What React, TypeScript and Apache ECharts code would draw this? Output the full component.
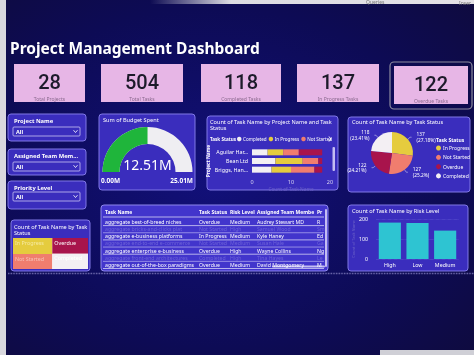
import React, { useEffect, useRef } from 'react';
import * as echarts from 'echarts';

const kpiValues = [28, 504, 118, 137, 122];
const kpiLabels = ['Total Projects', 'Total Tasks', 'Completed Tasks', 'In Progress Tasks', 'Overdue Tasks'];

const projectNames = ['Aguilar Har...', 'Bean Ltd', 'Briggs, Han...'];
const completedByProject = [4, 6, 5];
const inProgressByProject = [4, 7, 5];
const notStartedByProject = [4, 4, 6];
const overdueByProject = [6, 1, 2];

const statusNames = ['In Progress', 'Not Started', 'Overdue', 'Completed'];
const statusCounts = [137, 127, 122, 118];

const riskLevels = ['High', 'Low', 'Medium'];
const riskCounts = [182, 180, 142];

const budgetSpent = 12.51;
const budgetMax = 25.01;

const slicerTitles = ['Project Name', 'Assigned Team Mem...', 'Priority Level'];
const slicerValues = ['All', 'All', 'All'];

const tableHeaders = ['Task Name', 'Task Status', 'Risk Level', 'Assigned Team Member', 'Project Name'];
const tableRows = [
  ['aggregate best-of-breed niches', 'Overdue', 'Medium', 'Audrey Stewart MD', 'Ramirez Group'],
  ['aggregate bricks-and-clicks platforms', 'Not Started', 'High', 'Samuel Wood', 'Smith LLC'],
  ['aggregate e-business platforms', 'In Progress', 'Medium', 'Kyle Haney', 'Edwards Inc'],
  ['aggregate end-to-end e-commerce', 'Not Started', 'Medium', 'Susan Hale', 'Garcia PLC'],
  ['aggregate enterprise e-business', 'Overdue', 'High', 'Wayne Collins', 'Nguyen Ltd'],
  ['aggregate front-end architectures', 'Completed', 'High', 'Tina Hayes', 'Lee Inc'],
  ['aggregate out-of-the-box paradigms', 'Overdue', 'Medium', 'David Montgomery', 'Moore LLC'],
];

const C_COMPLETED = '#f3eff3';
const C_INPROG = '#e5cc3e';
const C_NOTSTART = '#f07d6e';
const C_OVERDUE = '#a8144c';
const statusColors: Record<string, string> = {
  'In Progress': C_INPROG,
  'Not Started': C_NOTSTART,
  Overdue: C_OVERDUE,
  Completed: C_COMPLETED,
};

const FONT = 'Noto Sans';
const PANEL = '#3a2dbd';
const PANEL_BORDER = '#8078e6';

function txt(x: number, y: number, text: string, size: number, fill: string, extra: any = {}) {
  return {
    type: 'text',
    x,
    y,
    z: 10,
    style: {
      text,
      fill,
      fontSize: size,
      fontFamily: FONT,
      verticalAlign: 'middle',
      align: 'left',
      ...extra,
    },
  };
}

function rect(x: number, y: number, w: number, h: number, style: any, r = 2, z = 1) {
  return { type: 'rect', z, shape: { x, y, width: w, height: h, r }, style };
}

function panel(x: number, y: number, w: number, h: number) {
  return rect(x, y, w, h, { fill: PANEL, stroke: PANEL_BORDER, lineWidth: 1 }, 3);
}

export default function App() {
  const ref = useRef<HTMLDivElement>(null);
  useEffect(() => {
    if (!ref.current) return;
    const chart = echarts.init(ref.current, undefined, { renderer: 'svg' });
    const total = statusCounts.reduce((a, b) => a + b, 0);

    const graphics: any[] = [];
    // background
    graphics.push({
      type: 'rect', z: 0, shape: { x: 0, y: 0, width: 474, height: 355 },
      style: {
        fill: new echarts.graphic.RadialGradient(0.45, 0.5, 0.8, [
          { offset: 0, color: '#12107a' },
          { offset: 0.6, color: '#0d0b55' },
          { offset: 1, color: '#0f0b3a' },
        ]),
      },
    });
    graphics.push(rect(0, 0, 6, 355, { fill: '#d9d8de' }, 0));
    graphics.push({
      type: 'rect', z: 1, shape: { x: 150, y: 0, width: 324, height: 4 },
      style: {
        fill: new echarts.graphic.LinearGradient(0, 0, 1, 0, [
          { offset: 0, color: 'rgba(220,220,225,0)' },
          { offset: 0.25, color: '#dcdce2' },
          { offset: 1, color: '#e4e2e6' },
        ]),
      },
    });
    graphics.push(txt(366, 1.5, 'Queries', 5, '#777'));
    graphics.push(txt(459, 2.5, 'Inser', 5, '#777'));
    graphics.push(rect(380, 350, 94, 5, { fill: '#cfcfd6' }, 0));

    // title
    graphics.push(txt(10, 48, 'Project Management Dashboard', 15.5, '#ffffff', { fontWeight: 'bold' }));

    // KPI cards
    const cardX = [14, 101, 201, 297, 394];
    const cardW = [71, 82, 80, 82, 74];
    graphics.push(rect(390, 62, 82, 47, { fill: 'none', stroke: '#8e8ca0', lineWidth: 1.2 }, 4));
    kpiValues.forEach((v, i) => {
      const y0 = i === 4 ? 66 : 64;
      graphics.push(rect(cardX[i], y0, cardW[i], 38, { fill: '#e7b6e6' }, 0));
      graphics.push(txt(cardX[i] + cardW[i] / 2, y0 + 18, String(v), 20, '#1c1a2a', { align: 'center', fontFamily: 'Roboto', fontWeight: 500 }));
      graphics.push(txt(cardX[i] + cardW[i] / 2, y0 + 35, kpiLabels[i], 5, '#8a6a8e', { align: 'center' }));
    });

    // slicers
    const slicerY = [114, 149, 181];
    const slicerH = [27, 26, 28];
    slicerTitles.forEach((t, i) => {
      const y = slicerY[i];
      graphics.push(panel(8, y, 78, slicerH[i]));
      graphics.push(txt(14, y + 6.5, t, 5.8, '#ffffff', { fontWeight: 'bold' }));
      const dy = y + (i === 2 ? 11 : 13);
      graphics.push(rect(13, dy, 67, 9, { fill: PANEL, stroke: '#c9c3f4', lineWidth: 0.8 }, 1, 2));
      graphics.push(txt(16, dy + 4.5, slicerValues[i], 5.5, '#ffffff', { fontWeight: 'bold' }));
      graphics.push({
        type: 'polyline', z: 10,
        shape: { points: [[73.5, dy + 3.2], [75.5, dy + 5.5], [77.5, dy + 3.2]] },
        style: { stroke: '#ffffff', lineWidth: 0.8, fill: 'none' },
      });
    });

    // treemap panel
    graphics.push(panel(11, 220, 79, 51));
    graphics.push(txt(14, 226.5, 'Count of Task Name by Task', 5.6, '#ffffff'));
    graphics.push(txt(14, 233, 'Status', 5.6, '#ffffff'));

    // gauge panel
    graphics.push(panel(99, 114, 96, 76));
    graphics.push(txt(103, 120, 'Sum of Budget Spent', 5.6, '#ffffff'));
    graphics.push(txt(101, 180, (0).toFixed(2) + 'M', 6.5, '#ffffff', { fontWeight: 'bold' }));
    graphics.push(txt(193, 180, budgetMax.toFixed(2) + 'M', 6.5, '#ffffff', { fontWeight: 'bold', align: 'right' }));

    // bar chart panel
    graphics.push(panel(207, 116, 131, 74));
    graphics.push(txt(210, 121.5, 'Count of Task Name by Project Name and Task', 5.6, '#ffffff'));
    graphics.push(txt(210, 128, 'Status', 5.6, '#ffffff'));
    graphics.push(txt(210, 139, 'Task Status', 4.6, '#ffffff', { fontWeight: 'bold' }));
    graphics.push({
      type: 'polyline', z: 10,
      shape: { points: [[329, 136.5], [331, 139], [329, 141.5]] },
      style: { stroke: '#ffffff', lineWidth: 1, fill: 'none' },
    });
    graphics.push(rect(332.5, 147, 2.5, 24, { fill: '#c4bdf2' }, 1, 2));

    // pie panel
    graphics.push(panel(348, 117, 122, 75));
    graphics.push(txt(352, 122, 'Count of Task Name by Task Status', 5.6, '#ffffff'));
    graphics.push(txt(436, 140, 'Task Status', 5, '#ffffff', { fontWeight: 'bold' }));

    // table panel
    graphics.push(rect(101, 205, 227, 66, { fill: '#4235cc', stroke: '#8f88ee', lineWidth: 1 }, 3));
    const colX = [105, 199, 230, 257, 317];
    const colW = [92, 30, 26, 60, 8];
    tableHeaders.forEach((h, j) => {
      graphics.push(txt(colX[j], 212, h, 5, '#ffffff', { fontWeight: 'bold', width: colW[j], overflow: 'truncate', ellipsis: '' }));
    });
    graphics.push({ type: 'line', z: 5, shape: { x1: 103, y1: 217, x2: 324, y2: 217 }, style: { stroke: '#d8d4f8', lineWidth: 0.8 } });
    tableRows.forEach((row, i) => {
      const y = 222 + i * 7.15;
      const dim = i % 2 === 1;
      row.forEach((cell, j) => {
        graphics.push(txt(colX[j], y, cell, 5.2, dim ? '#6d62d8' : '#ffffff', { width: colW[j], overflow: 'truncate', ellipsis: '' }));
      });
      graphics.push({ type: 'line', z: 5, shape: { x1: 103, y1: y + 3.6, x2: 324, y2: y + 3.6 }, style: { stroke: dim ? '#b8b2f0' : '#e8e6fb', lineWidth: 0.7 } });
    });
    graphics.push(rect(325, 209, 2, 58, { fill: '#c4bdf2' }, 1, 6));
    graphics.push(rect(272, 265.5, 53, 2, { fill: '#c4bdf2' }, 1, 6));

    // column chart panel
    graphics.push(panel(348, 205, 120, 66));
    graphics.push(txt(352, 211, 'Count of Task Name by Risk Level', 5.6, '#ffffff'));

    // dotted divider
    graphics.push({
      type: 'line', z: 1,
      shape: { x1: 8, y1: 273.5, x2: 474, y2: 273.5 },
      style: { stroke: '#7c78b8', lineWidth: 1.5, lineDash: [0.8, 0.8] },
    });

    const barSeries = [
      { name: 'Completed', data: completedByProject, color: C_COMPLETED },
      { name: 'In Progress', data: inProgressByProject, color: C_INPROG },
      { name: 'Not Started', data: notStartedByProject, color: C_NOTSTART },
      { name: 'Overdue', data: overdueByProject, color: C_OVERDUE },
    ].map((s) => ({
      type: 'bar',
      name: s.name,
      stack: 'status',
      xAxisIndex: 0,
      yAxisIndex: 0,
      barWidth: 6,
      z: 5,
      data: s.data,
      itemStyle: { color: s.color },
    }));

    const option: any = {
      animation: false,
      textStyle: { fontFamily: FONT },
      graphic: { elements: graphics },
      legend: [
        {
          data: ['Completed', 'In Progress', 'Not Started'],
          left: 237,
          top: 136.5,
          icon: 'circle',
          itemWidth: 4.5,
          itemHeight: 4.5,
          itemGap: 2,
          padding: 0,
          z: 12,
          selectedMode: false,
          textStyle: { color: '#ffffff', fontSize: 4.6, padding: [0, 0, 0, -3.5] },
        },
        {
          data: statusNames,
          orient: 'vertical',
          left: 436,
          top: 145.5,
          icon: 'circle',
          itemWidth: 5,
          itemHeight: 5,
          itemGap: 4.3,
          padding: 0,
          z: 12,
          selectedMode: false,
          textStyle: { color: '#ffffff', fontSize: 5, padding: [0, 0, 0, -3] },
        },
      ],
      grid: [
        { left: 252, top: 148, width: 78, height: 26 },
        { left: 376, top: 219, width: 83, height: 40 },
      ],
      xAxis: [
        {
          gridIndex: 0,
          type: 'value',
          z: 12,
          min: 0,
          max: 20,
          interval: 10,
          splitLine: { show: false },
          axisLine: { show: false },
          axisTick: { show: false },
          axisLabel: { color: '#d8d4f2', fontSize: 5.5, margin: 5 },
          name: 'Count of Task Name',
          nameLocation: 'middle',
          nameGap: 12,
          nameTextStyle: { color: '#6a60c8', fontSize: 4.8 },
        },
        {
          gridIndex: 1,
          type: 'category',
          z: 12,
          data: riskLevels,
          axisLine: { show: false },
          axisTick: { show: false },
          axisLabel: { color: '#ffffff', fontSize: 5.3, margin: 3 },
        },
      ],
      yAxis: [
        {
          gridIndex: 0,
          type: 'category',
          z: 12,
          data: projectNames,
          inverse: true,
          axisLine: { show: false },
          axisTick: { show: false },
          axisLabel: { color: '#ffffff', fontSize: 5.3, margin: 4 },
          name: 'Project Name',
          nameLocation: 'middle',
          nameRotate: 90,
          nameGap: 32,
          nameTextStyle: { color: '#ffffff', fontSize: 4.8, fontWeight: 'bold' },
        },
        {
          gridIndex: 1,
          type: 'value',
          z: 3,
          min: 0,
          max: 200,
          interval: 100,
          axisLine: { show: false },
          axisTick: { show: false },
          splitLine: { lineStyle: { color: '#6a62d6', type: 'dotted', width: 0.6 } },
          axisLabel: { color: '#ffffff', fontSize: 5.3, margin: 8 },
          name: 'Count of Task Name',
          nameLocation: 'middle',
          nameGap: 20,
          nameTextStyle: { color: '#6a60c8', fontSize: 4 },
        },
      ],
      series: [
        ...barSeries,
        {
          type: 'bar',
          name: 'Risk',
          xAxisIndex: 1,
          yAxisIndex: 1,
          barWidth: '80%',
          z: 5,
          data: riskCounts,
          itemStyle: { color: '#2ec4d2' },
        },
        {
          type: 'gauge',
          center: [147.5, 172],
          radius: 45,
          startAngle: 180,
          endAngle: 0,
          min: 0,
          max: budgetMax,
          z: 5,
          pointer: { show: false },
          anchor: { show: false },
          axisTick: { show: false },
          splitLine: { show: false },
          axisLabel: { show: false },
          title: { show: false },
          progress: { show: true, width: 17, itemStyle: { color: '#1fb53b' } },
          axisLine: { lineStyle: { width: 17, color: [[1, '#efeef2']] } },
          detail: {
            valueAnimation: false,
            offsetCenter: [0, -8],
            formatter: (v: number) => v.toFixed(2) + 'M',
            color: '#ffffff',
            fontSize: 14,
            fontWeight: 'normal',
            fontFamily: FONT,
          },
          data: [{ value: budgetSpent }],
        },
        {
          type: 'pie',
          name: 'Task Status',
          center: [392, 153],
          radius: 21,
          startAngle: 90,
          clockwise: true,
          z: 5,
          data: statusNames.map((n, i) => ({ name: n, value: statusCounts[i], itemStyle: { color: statusColors[n] } })),
          label: {
            color: '#ffffff',
            fontSize: 4.8,
            lineHeight: 5.5,
            formatter: (p: any) => `${p.value}\n(${parseFloat(((p.value / total) * 100).toFixed(2))}%)`,
          },
          labelLine: { length: 3, length2: 1.5, lineStyle: { color: '#d0ccf0', width: 0.6 } },
        },
        {
          type: 'treemap',
          left: 13,
          top: 238,
          width: 75,
          height: 31,
          z: 5,
          roam: false,
          nodeClick: false,
          breadcrumb: { show: false },
          itemStyle: { borderWidth: 0, gapWidth: 0 },
          label: { show: true, position: 'insideTopLeft', fontSize: 5.4, padding: [2, 2] },
          data: statusNames.map((n, i) => ({
            name: n,
            value: statusCounts[i],
            itemStyle: { color: statusColors[n] },
            label: { color: n === 'In Progress' ? '#f6e9a0' : n === 'Not Started' ? '#f6c2b8' : '#ffffff' },
          })),
        },
      ],
    };
    chart.setOption(option);
    return () => chart.dispose();
  }, []);

  return <div ref={ref} style={{ position: 'fixed', left: 0, top: 0, width: 474, height: 355 }} />;
}
